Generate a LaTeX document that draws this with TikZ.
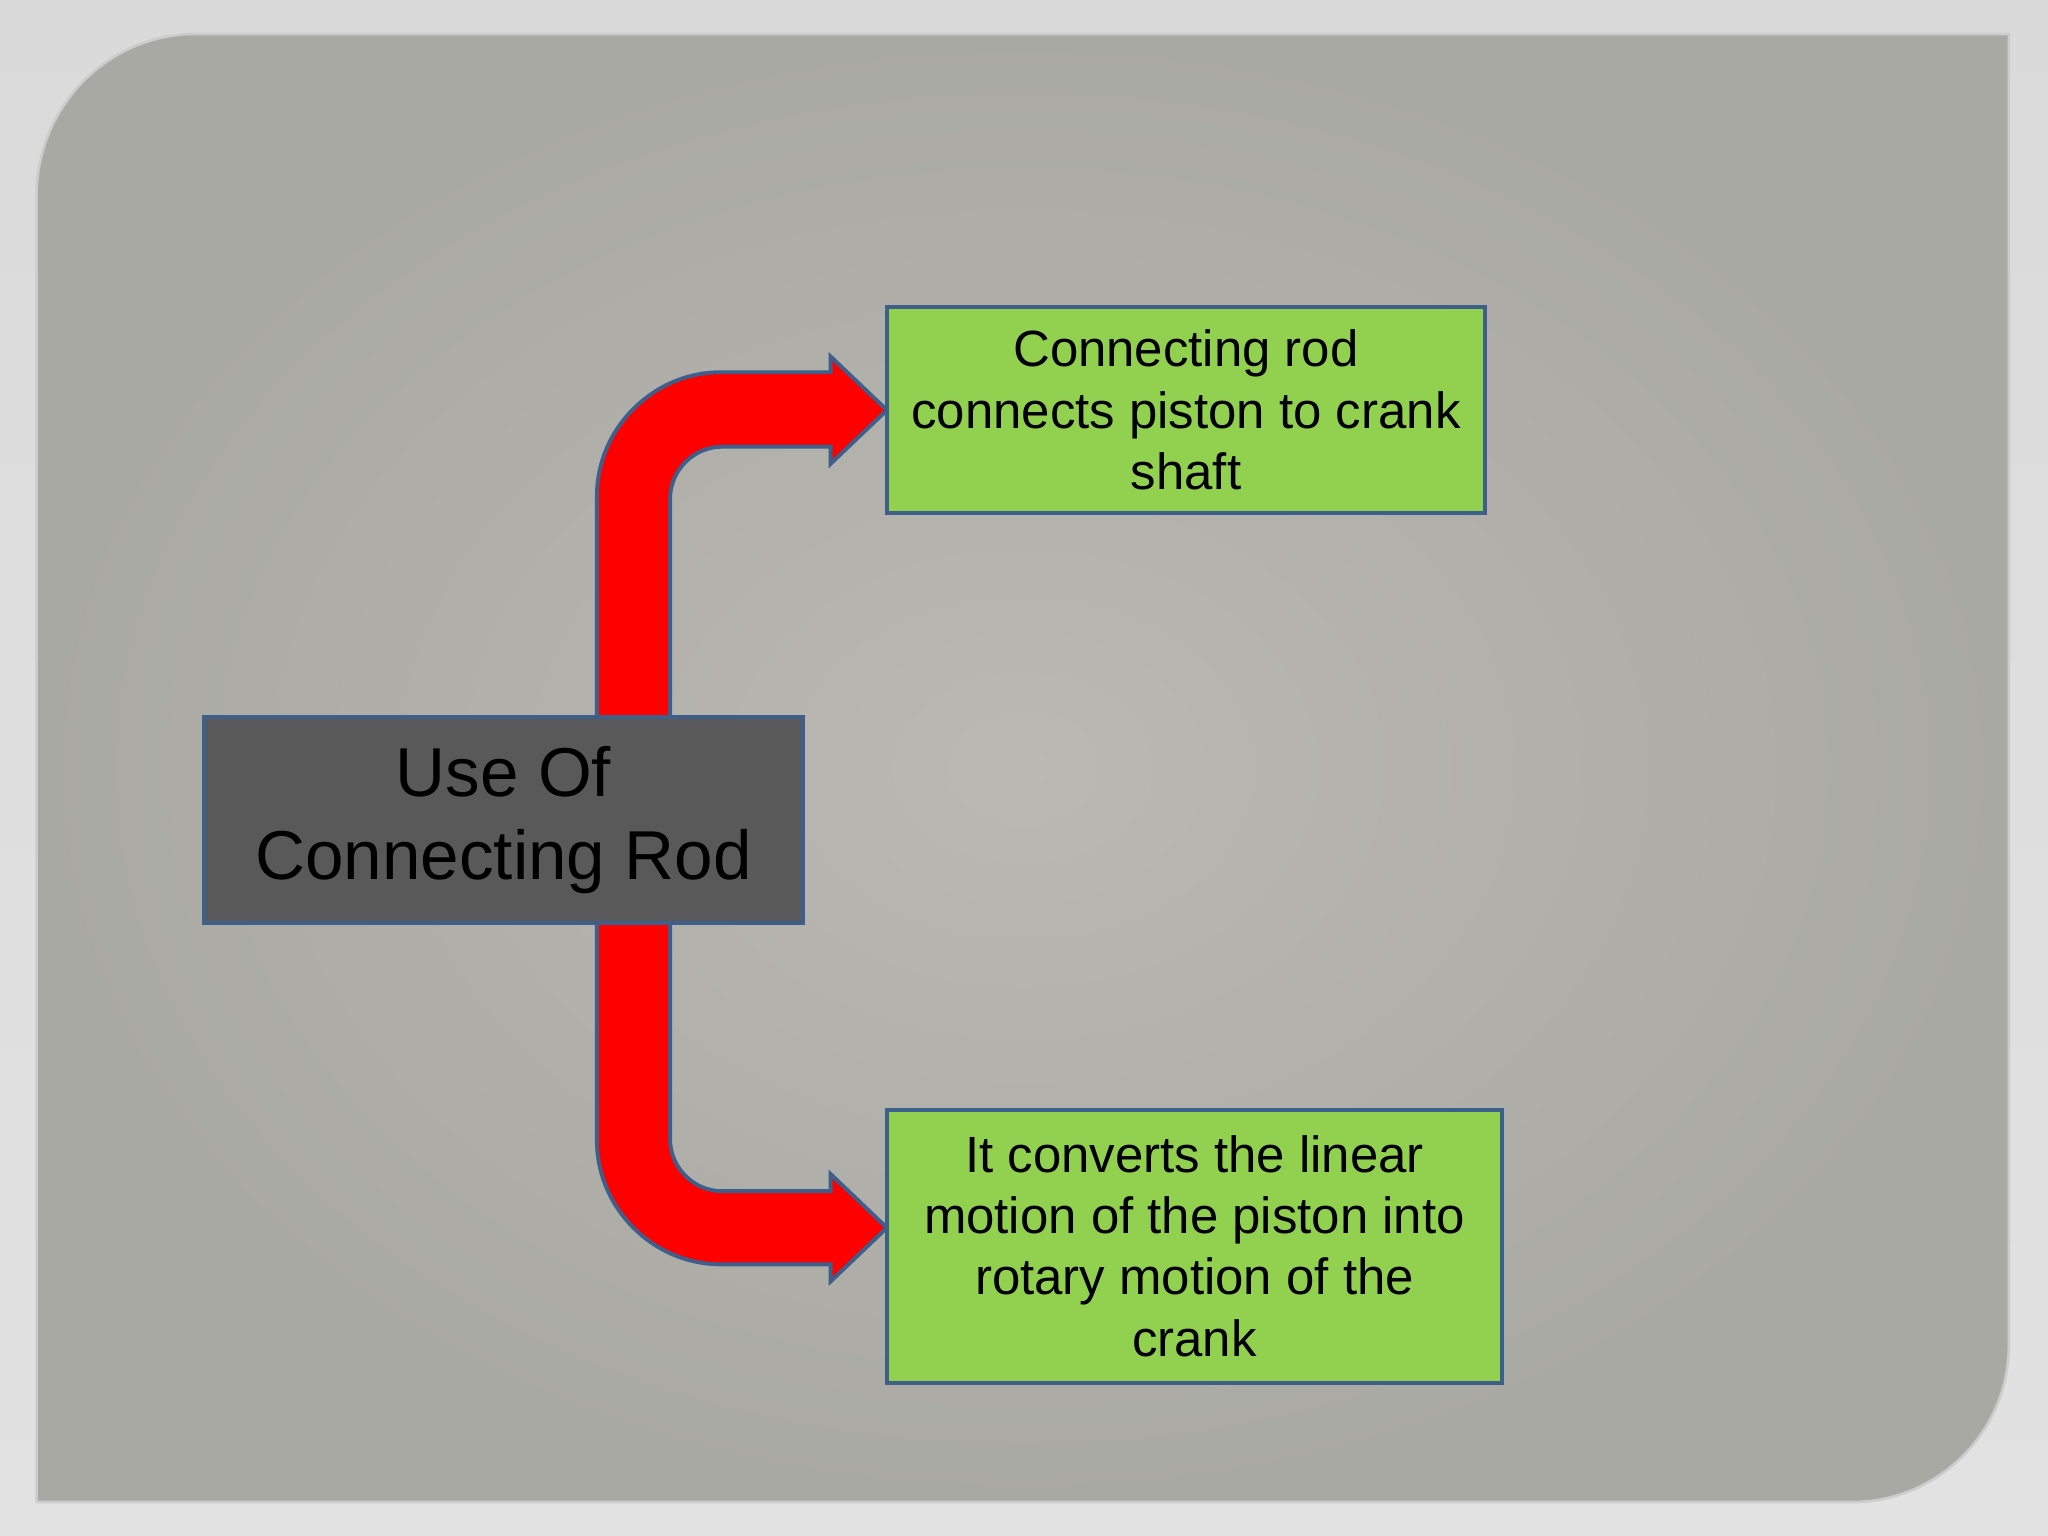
\documentclass[tikz,border=0pt]{standalone}
\usepackage{fontspec}
\setmainfont{Liberation Sans}
\definecolor{bord}{HTML}{3E5F8A}
\definecolor{grn}{HTML}{92D050}
\definecolor{dark}{HTML}{595959}
\definecolor{outer}{HTML}{E2E2E2}
\definecolor{pin}{HTML}{BCB8B4}
\definecolor{pout}{HTML}{A9A9A3}
\begin{document}
\begin{tikzpicture}[x=0.5pt,y=-0.5pt,
  box/.style={draw=bord,line width=1.5pt,inner sep=0pt,align=center,text=black},
  arr/.style={fill=red,draw=bord,line width=1.5pt,line join=miter}]
\useasboundingbox (0,0) rectangle (1568,1176);
\shade[bottom color=outer,top color=outer!92!gray] (0,0) rectangle (1568,1176);
\shade[inner color=pin,outer color=pout,draw=white!80!black,line width=1pt]
  (28,150) .. controls (28,82) and (82,26) .. (150,26) -- (1538,26) -- (1538,1030)
  .. controls (1538,1096) and (1484,1150) .. (1418,1150) -- (28,1150) -- cycle;
\draw[arr] (457,548) -- (457,380) .. controls (457,328) and (500,285) .. (552,285)
  -- (636,285) -- (636,273) -- (679,314) -- (636,355) -- (636,342) -- (553,342)
  .. controls (531,342) and (513,360) .. (513,382) -- (513,548);
\draw[arr] (457,706) -- (457,873) .. controls (457,925) and (500,968) .. (552,968)
  -- (636,968) -- (636,981) -- (679,940) -- (636,899) -- (636,912) -- (553,912)
  .. controls (531,912) and (513,894) .. (513,872) -- (513,706);
\node[box,fill=dark,minimum width=229.5pt,minimum height=79pt,font=\fontsize{26.5}{32}\selectfont] (use) at (385.5,628) {Use Of\\Connecting Rod};
\node[box,fill=grn,minimum width=229pt,minimum height=79pt,font=\fontsize{19.5}{23.5}\selectfont] (c1) at (908,314) {Connecting rod\\connects piston to crank\\shaft};
\node[box,fill=grn,minimum width=235.5pt,minimum height=104.5pt,font=\fontsize{19.5}{23.5}\selectfont] (c2) at (914.5,954) {It converts the linear\\motion of the piston into\\rotary motion of the\\crank};
\end{tikzpicture}
\end{document}
